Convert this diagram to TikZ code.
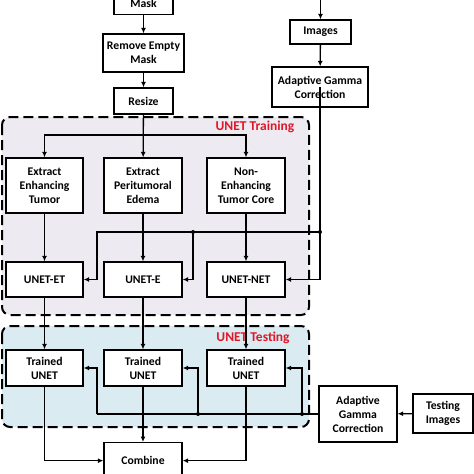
\documentclass[tikz,border=0pt]{standalone}
\usepackage{fontspec}
\setmainfont{Carlito}
\usetikzlibrary{arrows.meta}
\definecolor{trainbg}{RGB}{237,234,241}
\definecolor{testbg}{RGB}{218,236,242}
\definecolor{lblred}{RGB}{222,24,40}

\begin{document}
\begin{tikzpicture}[x=1pt,y=-1pt,
  blk/.style={draw, line width=1.3pt, fill=white, align=center, inner sep=1pt,
    font=\fontsize{11.7}{14}\selectfont\bfseries},
  flow/.style={line width=1.3pt, -{Latex[length=5.5pt,width=5pt]}},
  wire/.style={line width=1.3pt},
  region/.style={line width=2pt, dash pattern=on 10pt off 5pt, rounded corners=8pt},
  tag/.style={text=lblred, font=\fontsize{13.5}{16}\selectfont\bfseries}]

\useasboundingbox (0,0) rectangle (474,474);

% the two stages
\draw[region, fill=trainbg] (2,117) rectangle (309,315);
\draw[region, fill=testbg] (2,326) rectangle (309,427);
\node[tag] (lbltrain) at (255,127) {UNET Training};
\node[tag] (lbltest) at (253,338) {UNET Testing};

% preprocessing
\node[blk, minimum width=59pt, minimum height=22pt, anchor=south] (mask) at (143.5,15) {Mask};
\node[blk, minimum width=81pt, minimum height=38pt] (remove) at (143.5,53) {Remove Empty\\Mask};
\node[blk, minimum width=59pt, minimum height=26pt] (resize) at (143.5,101) {Resize};
\node[blk, minimum width=61pt, minimum height=24pt] (images) at (320.5,32) {Images};
\node[blk, minimum width=96pt, minimum height=40pt] (agcA) at (320,87) {Adaptive Gamma\\Correction};
\coordinate (imgin) at (320.5,-2);

% training
\node[blk, minimum width=77pt, minimum height=55pt] (eet) at (44.5,185.5) {Extract\\Enhancing\\Tumor};
\node[blk, minimum width=78pt, minimum height=55pt] (epe) at (143,185.5) {Extract\\Peritumoral\\Edema};
\node[blk, minimum width=78pt, minimum height=55pt] (netc) at (246,185.5) {Non-\\Enhancing\\Tumor Core};

\node[blk, minimum width=77pt, minimum height=35pt] (uet) at (44.5,279.5) {UNET-ET};
\node[blk, minimum width=78pt, minimum height=35pt] (ue) at (143,279.5) {UNET-E};
\node[blk, minimum width=78pt, minimum height=35pt] (unet) at (246,279.5) {UNET-NET};

% testing
\node[blk, minimum width=77pt, minimum height=36pt] (tr1) at (44.5,368) {Trained\\UNET};
\node[blk, minimum width=78pt, minimum height=36pt] (tr2) at (143,368) {Trained\\UNET};
\node[blk, minimum width=78pt, minimum height=36pt] (tr3) at (246,368) {Trained\\UNET};

\node[blk, minimum width=60pt, minimum height=39pt] (testimg) at (443,413.5) {Testing\\Images};
\node[blk, minimum width=78pt, minimum height=56pt] (agcB) at (358,414) {Adaptive\\Gamma\\Correction};
\node[blk, minimum width=78pt, minimum height=36pt, anchor=north] (comb) at (143,442) {Combine};

\coordinate (split) at (143,135);
\coordinate (gA) at (320,232);
\coordinate (gM) at (193,232);
\coordinate (gL) at (97,232);
\coordinate (tR) at (302,414);
\coordinate (tM) at (198,414);
\coordinate (tL) at (97,414);

% connectors
\draw[flow] (mask) -- (remove);
\draw[flow] (remove) -- (resize);
\draw[flow] (imgin) -- (images);
\draw[flow] (images) -- (agcA);
\draw[flow] (resize) -- (epe);
\draw[flow] (split) -| (eet);
\draw[flow] (split) -| (netc);

\draw[flow] (eet) -- (uet);
\draw[flow] (epe) -- (ue);
\draw[flow] (netc) -- (unet);

\draw[flow] (agcA.center) |- (unet.east);
\draw[flow] (gA) -- (gL) |- (uet.east);
\draw[flow] (gM) |- (ue.east);
\fill (gA) circle (2pt);
\fill (gM) circle (2pt);

\draw[flow] (uet) -- (tr1);
\draw[flow] (ue) -- (tr2);
\draw[flow] (unet) -- (tr3);

\draw[flow] (testimg) -- (agcB);
\draw[wire] (agcB.west) -- (tL);
\draw[flow] (tR) |- (tr3.east);
\draw[flow] (tM) |- (tr2.east);
\draw[flow] (tL) |- (tr1.east);
\fill (tR) circle (2pt);
\fill (tM) circle (2pt);

\draw[flow] (tr2) -- (comb);
\draw[flow] (tr1) |- (comb.west);
\draw[flow] (tr3) |- (comb.east);
\end{tikzpicture}
\end{document}
